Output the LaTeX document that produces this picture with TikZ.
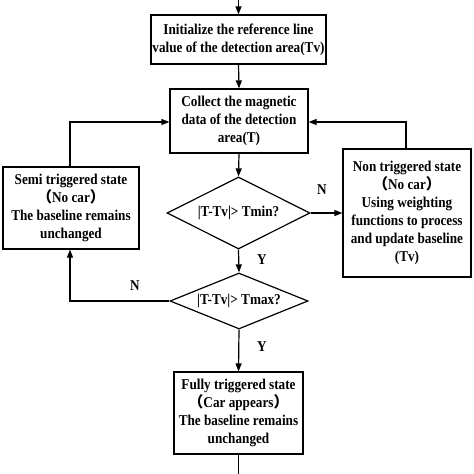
\documentclass[tikz,border=0pt]{standalone}
\usepackage{fontspec}
\setmainfont{Liberation Serif}[FakeStretch=0.88]
\newfontfamily\cjk{Noto Sans CJK SC}
\usetikzlibrary{shapes.geometric,arrows.meta}
\newcommand{\lp}{{\cjk （}}
\newcommand{\rp}{{\cjk ）}}
\begin{document}
\begin{tikzpicture}[x=1pt,y=-1pt,
  every node/.style={font=\bfseries\fontsize{15}{18}\selectfont, align=center},
  boxx/.style={draw, line width=1.2pt, rectangle, inner sep=0pt},
  dia/.style={draw, line width=1.2pt, diamond, inner sep=0pt, shape aspect=2.5},
  lbl/.style={font=\bfseries\fontsize{15}{15}\selectfont},
  arr/.style={line width=1.2pt, -{Triangle[length=8pt,width=6pt]}},
  ln/.style={line width=1.2pt}]
\useasboundingbox (0,0) rectangle (474,474);
\coordinate (top) at (238.5,0);
\coordinate (bot) at (238.5,474);
\node[boxx, minimum width=175pt, minimum height=49pt] (b1) at (238.5,39.5) {Initialize the reference line\\value of the detection area(Tv)};
\node[boxx, minimum width=138pt, minimum height=64pt] (b2) at (239,121) {Collect the magnetic\\data of the detection\\area(T)};
\node[boxx, minimum width=136pt, minimum height=82pt] (semi) at (71,208) {Semi triggered state\\\lp No car\rp\\The baseline remains\\unchanged};
\node[boxx, minimum width=128pt, minimum height=128pt] (non) at (407,213) {Non triggered state\\\lp No car\rp\\Using weighting\\functions to process\\and update baseline\\(Tv)};
\node[dia, minimum width=143pt, minimum height=72pt] (d1) at (238.5,213) {|T-Tv|> Tmin?};
\node[dia, minimum width=138pt, minimum height=56pt] (d2) at (239,301) {|T-Tv|> Tmax?};
\node[boxx, minimum width=129pt, minimum height=82pt] (full) at (238.5,413) {Fully triggered state\\\lp Car appears\rp\\The baseline remains\\unchanged};
\coordinate (lc) at (70,122);
\coordinate (rc) at (406,122);
\draw[arr] (top) -- (b1.north);
\draw[arr] (b1.south) -- (b2.north);
\draw[arr] (b2.south) -- (d1.north);
\draw[arr] (d1.east) -- (non.west);
\draw[arr] (d1.south) -- (d2.north);
\draw[arr] (d2.south) -- (full.north);
\draw[ln] (full.south) -- (bot);
\draw[arr] (semi.north -| lc) -- (lc) -- (b2.west |- lc);
\draw[arr] (non.north -| rc) -- (rc) -- (b2.east |- rc);
\draw[arr] (d2.west) -- (d2.west -| lc) -- (semi.south -| lc);
\node[lbl] (n1) at (322,190) {N};
\node[lbl] (y1) at (262,260) {Y};
\node[lbl] (n2) at (135,286) {N};
\node[lbl] (y2) at (262,347) {Y};
\end{tikzpicture}
\end{document}
